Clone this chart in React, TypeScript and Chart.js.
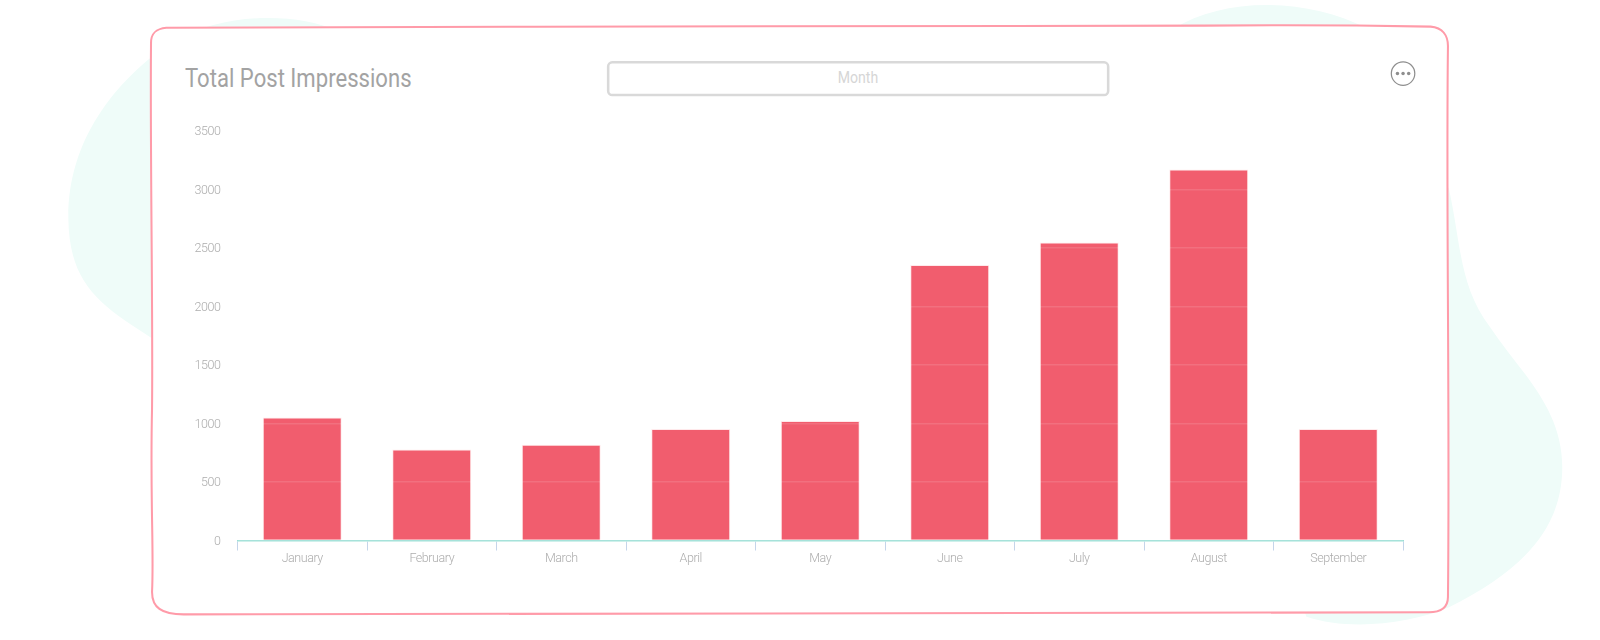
import {useEffect, useRef} from "react";

import {Chart, registerables} from "chart.js";

Chart.register(...registerables);

const months = ["January", "February", "March", "April", "May", "June", "July", "August", "September"];
const impressions = [1052, 778, 818, 952, 1022, 2354, 2548, 3170, 952];

const chartTitle = "Total Post Impressions";
const selectLabel = "Month";

const tickFont = {family: "Roboto", size: 12.5, weight: "300" as const};

// hand drawn card outline and the mint blobs behind it
const cardPath =
  "M163 27 C500 25 900 27 1180 25 C1280 24 1350 25 1402 26 C1414 27 1419 35 1419 45 " +
  "C1417 200 1421 400 1419 585 C1419 596 1412 600 1400 600 C1100 600 700 603 180 602 " +
  "C158 602 149 595 149 580 C151 540 147 490 149 400 C150 300 147 150 148 42 C148 32 153 28 163 27 Z";
const leftBlob =
  "M330 30 C290 12 220 12 170 40 C110 80 66 140 67 215 C68 280 100 300 150 332 L330 332 Z";
const rightBlob =
  "M1150 28 C1200 -3 1280 -3 1340 28 L1420 185 C1432 240 1430 280 1460 320 C1490 365 1532 400 1531 460 " +
  "C1530 520 1490 560 1420 595 C1380 612 1320 618 1280 604 Z";

// the original labels are a condensed face, tighten the installed one
const tightText = {
  id: "tightText",
  beforeDraw: (chart: Chart) => {
    (chart.ctx as any).letterSpacing = "-0.45px";
  },
};

export default function App() {
  const chartRef = useRef<HTMLCanvasElement>(null);

  useEffect(() => {
    if (!chartRef.current) return;
    document.body.style.margin = "0";

    const chart = new Chart(chartRef.current, {
      type: "bar",
      plugins: [tightText],
      data: {
        labels: months,
        datasets: [
          {
            label: "Impressions",
            data: impressions,
            backgroundColor: "#f15d6e",
            borderColor: "rgba(255, 200, 205, 0.4)",
            borderWidth: 1,
            barPercentage: 0.61,
            categoryPercentage: 1,
          },
        ],
      },
      options: {
        animation: false,
        responsive: false,
        devicePixelRatio: 1,
        layout: {padding: {top: 131, right: 197, bottom: 0, left: 0}},
        plugins: {legend: {display: false}, tooltip: {enabled: false}},
        scales: {
          x: {
            afterFit: scale => {
              scale.height = 99.5;
            },
            border: {color: "#9adfd5", width: 1.5},
            grid: {
              drawOnChartArea: false,
              color: "#c5d5ea",
              tickLength: 10,
            },
            ticks: {color: "#adadad", font: tickFont, padding: 1, maxRotation: 0},
          },
          y: {
            min: 0,
            max: 3500,
            afterFit: scale => {
              scale.width = 237.5;
            },
            border: {display: false},
            grid: {
              color: "rgba(255, 255, 255, 0.12)",
              lineWidth: 1.5,
              drawTicks: false,
              z: 1,
            },
            ticks: {
              stepSize: 500,
              color: "#adadad",
              font: tickFont,
              padding: 17,
              labelOffset: 1,
              callback: value => String(value),
            },
          },
        },
      },
    });

    return () => {
      chart.destroy();
    };
  }, []);

  return (
    <div style={{position: "relative", width: 1600, height: 640, background: "#fff", overflow: "hidden"}}>
      <svg width={1600} height={640} viewBox="0 0 1568 627" style={{position: "absolute", left: 0, top: 0}}>
        <path d={leftBlob} fill="#effcf9" />
        <path d={rightBlob} fill="#effcf9" />
        <path d={cardPath} fill="#fff" stroke="#ff9ba9" strokeWidth={2} />
        <rect x={596} y={61} width={490} height={32} rx={4} fill="#fff" stroke="#d9d9d9" strokeWidth={2.5} />
        <circle cx={1375} cy={72} r={11.5} fill="none" stroke="#8e8e8e" strokeWidth={1.2} />
        <circle cx={1369.5} cy={72} r={1.7} fill="#8e8e8e" />
        <circle cx={1375} cy={72} r={1.7} fill="#8e8e8e" />
        <circle cx={1380.5} cy={72} r={1.7} fill="#8e8e8e" />
      </svg>
      <div
        style={{
          position: "absolute",
          left: 185,
          top: 63,
          font: "400 26px Roboto",
          lineHeight: "30px",
          color: "#a3a3a3",
          transform: "scaleX(0.85)",
          transformOrigin: "left center",
          whiteSpace: "nowrap",
        }}
      >
        {chartTitle}
      </div>
      <div
        style={{
          position: "absolute",
          left: 608,
          top: 62,
          width: 500,
          textAlign: "center",
          font: "400 16px Roboto",
          lineHeight: "32px",
          color: "#d6d6d6",
          transform: "scaleX(0.88)",
        }}
      >
        {selectLabel}
      </div>
      <canvas ref={chartRef} width={1600} height={640} style={{position: "absolute", left: 0, top: 0}} />
    </div>
  );
}
